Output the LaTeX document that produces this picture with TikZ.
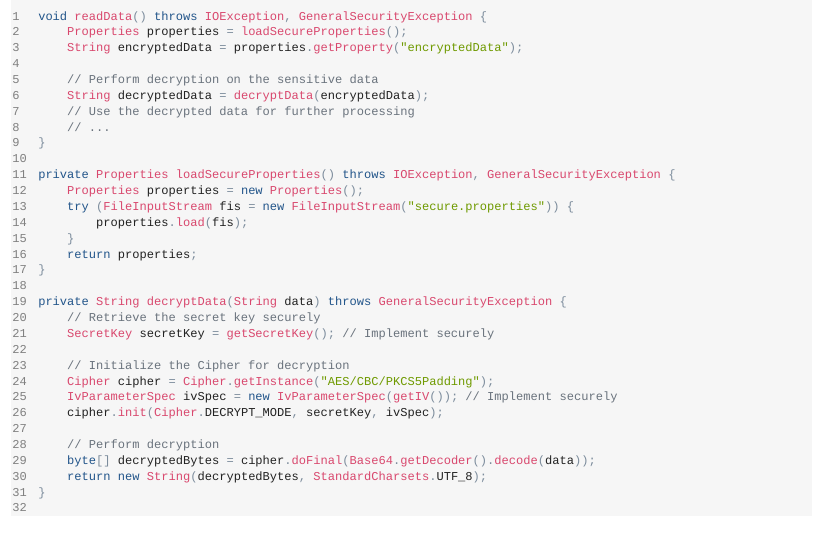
\documentclass[tikz,border=0pt]{standalone}
\usepackage{fontspec}
\setmonofont{Liberation Mono}
\definecolor{bgc}{HTML}{F6F6F6}
\definecolor{kwc}{HTML}{22558A}
\definecolor{fnc}{HTML}{D9486E}
\definecolor{stc}{HTML}{6F9A00}
\definecolor{puc}{HTML}{7C8C9C}
\definecolor{cmc}{HTML}{6A737D}
\definecolor{txc}{HTML}{222222}
\definecolor{nuc}{HTML}{808080}
\newcommand\K[1]{\textcolor{kwc}{#1}}
\newcommand\F[1]{\textcolor{fnc}{#1}}
\newcommand\Sq[1]{\textcolor{stc}{#1}}
\newcommand\Pu[1]{\textcolor{puc}{#1}}
\newcommand\Cm[1]{\textcolor{cmc}{#1}}
\newcommand\ind[1]{\hspace*{#1\dimexpr 21.72pt\relax}}
\newcommand\codeline[2]{%
  \node[numstyle] (n#1) at (12,{4.13+#1*15.87}) {#1};
  \node[codestyle] (l#1) at (38,{4.13+#1*15.87}) {#2};}
\begin{document}
\begin{tikzpicture}[x=0.75pt,y=-0.75pt,
  codestyle/.style={anchor=base west,inner sep=0pt,font=\ttfamily\fontsize{9.05pt}{10pt}\selectfont,text=txc},
  numstyle/.style={anchor=base west,inner sep=0pt,font=\ttfamily\fontsize{9.05pt}{10pt}\selectfont,text=nuc}]
\useasboundingbox (0,0) rectangle (816,533);
\fill[bgc] (11,0) rectangle (812,516);
\codeline{1}{\K{void} \F{readData}\Pu{()} \K{throws} \F{IOException}\Pu{,} \F{GeneralSecurityException} \Pu{\{}}
\codeline{2}{\ind{1}\F{Properties} properties \Pu{=} \F{loadSecureProperties}\Pu{();}}
\codeline{3}{\ind{1}\F{String} encryptedData \Pu{=} properties\Pu{.}\F{getProperty}\Pu{(}\Sq{"encryptedData"}\Pu{);}}
\codeline{4}{}
\codeline{5}{\ind{1}\Cm{// Perform decryption on the sensitive data}}
\codeline{6}{\ind{1}\F{String} decryptedData \Pu{=} \F{decryptData}\Pu{(}encryptedData\Pu{);}}
\codeline{7}{\ind{1}\Cm{// Use the decrypted data for further processing}}
\codeline{8}{\ind{1}\Cm{// ...}}
\codeline{9}{\Pu{\}}}
\codeline{10}{}
\codeline{11}{\K{private} \F{Properties} \F{loadSecureProperties}\Pu{()} \K{throws} \F{IOException}\Pu{,} \F{GeneralSecurityException} \Pu{\{}}
\codeline{12}{\ind{1}\F{Properties} properties \Pu{=} \K{new} \F{Properties}\Pu{();}}
\codeline{13}{\ind{1}\K{try} \Pu{(}\F{FileInputStream} fis \Pu{=} \K{new} \F{FileInputStream}\Pu{(}\Sq{"secure.properties"}\Pu{))} \Pu{\{}}
\codeline{14}{\ind{2}properties\Pu{.}\F{load}\Pu{(}fis\Pu{);}}
\codeline{15}{\ind{1}\Pu{\}}}
\codeline{16}{\ind{1}\K{return} properties\Pu{;}}
\codeline{17}{\Pu{\}}}
\codeline{18}{}
\codeline{19}{\K{private} \F{String} \F{decryptData}\Pu{(}\F{String} data\Pu{)} \K{throws} \F{GeneralSecurityException} \Pu{\{}}
\codeline{20}{\ind{1}\Cm{// Retrieve the secret key securely}}
\codeline{21}{\ind{1}\F{SecretKey} secretKey \Pu{=} \F{getSecretKey}\Pu{();} \Cm{// Implement securely}}
\codeline{22}{}
\codeline{23}{\ind{1}\Cm{// Initialize the Cipher for decryption}}
\codeline{24}{\ind{1}\F{Cipher} cipher \Pu{=} \F{Cipher}\Pu{.}\F{getInstance}\Pu{(}\Sq{"AES/CBC/PKCS5Padding"}\Pu{);}}
\codeline{25}{\ind{1}\F{IvParameterSpec} ivSpec \Pu{=} \K{new} \F{IvParameterSpec}\Pu{(}\F{getIV}\Pu{());} \Cm{// Implement securely}}
\codeline{26}{\ind{1}cipher\Pu{.}\F{init}\Pu{(}\F{Cipher}\Pu{.}DECRYPT\_MODE\Pu{,} secretKey\Pu{,} ivSpec\Pu{);}}
\codeline{27}{}
\codeline{28}{\ind{1}\Cm{// Perform decryption}}
\codeline{29}{\ind{1}\K{byte}\Pu{[]} decryptedBytes \Pu{=} cipher\Pu{.}\F{doFinal}\Pu{(}\F{Base64}\Pu{.}\F{getDecoder}\Pu{().}\F{decode}\Pu{(}data\Pu{));}}
\codeline{30}{\ind{1}\K{return} \K{new} \F{String}\Pu{(}decryptedBytes\Pu{,} \F{StandardCharsets}\Pu{.}UTF\_8\Pu{);}}
\codeline{31}{\Pu{\}}}
\codeline{32}{}
\end{tikzpicture}
\end{document}
